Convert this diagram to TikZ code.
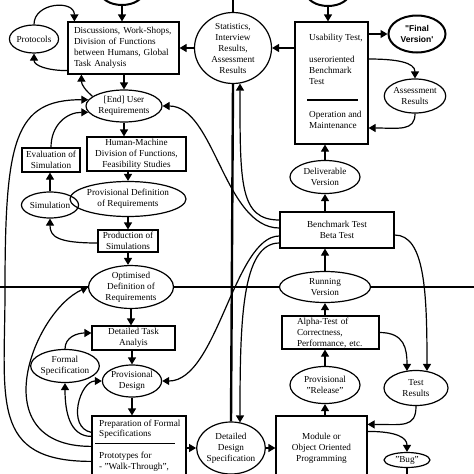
\documentclass[tikz,border=0pt]{standalone}
\usepackage{fontspec}
\setmainfont{Liberation Serif}
\newfontfamily\lsans{Liberation Sans}
\usetikzlibrary{shapes.geometric,arrows.meta,calc}
\begin{document}
\begin{tikzpicture}[x=1pt,y=-1pt,
  every node/.style={font=\fontsize{9.2}{11}\selectfont, inner sep=0pt},
  rbox/.style={draw, rectangle, line width=1.2pt, align=center},
  ell/.style={draw, ellipse, line width=1.2pt, align=center},
  arr/.style={line width=1.2pt, -{Triangle[length=7pt,width=8pt]}},
  plain/.style={line width=1.2pt},
  axisline/.style={line width=2.4pt}]
\useasboundingbox (0,0) rectangle (474,474);
\clip (0,0) rectangle (474,474);

% cut-off ellipses at the top
\node[ell, line width=2pt, minimum width=44pt, minimum height=28pt] (topL) at (122,-9) {};
\node[ell, line width=2pt, minimum width=44pt, minimum height=28pt] (topR) at (328,-8) {};

% upper left quadrant
\node[rbox, minimum width=111pt, minimum height=52pt, align=left, text width=99pt] (disc) at (123.5,48)
  {Discussions, Work-Shops,\\Division of Functions\\between Humans, Global\\Task Analysis};
\node[ell, minimum width=46pt, minimum height=28pt] (prot) at (34,39) {Protocols};
\node[ell, minimum width=77pt, minimum height=60pt] (stat) at (233,48) {Statistics,\\Interview\\Results,\\Assessment\\Results};
\node[ell, minimum width=76pt, minimum height=32pt] (userreq) at (124,106) {[End] User\\Requirements};
\node[rbox, minimum width=99pt, minimum height=34pt] (hm) at (136.5,154) {Human-Machine\\Division of Functions,\\Feasibility Studies};
\node[rbox, minimum width=58pt, minimum height=24pt] (evals) at (51,160) {Evaluation of\\Simulation};
\node[ell, minimum width=53pt, minimum height=26pt] (sim) at (50,205) {Simulation};
\node[ell, minimum width=103pt, minimum height=35pt] (provdef) at (128,199) {Provisional Definition\\of Requirements};
\node[rbox, minimum width=60pt, minimum height=22pt] (prodsim) at (128,241) {Production of\\Simulations};
\node[ell, minimum width=85pt, minimum height=42pt] (optim) at (131,287) {Optimised\\Definition of\\Requirements};

% upper right quadrant
\node[rbox, minimum width=73pt, minimum height=122pt] (usab) at (331.5,83) {};
\node[anchor=west, align=left, font=\fontsize{9.2}{11.2}\selectfont] (usabA) at (309,59.5) {Usability Test,\\[11pt]useroriented\\Benchmark\\Test};
\node[anchor=west, align=left, font=\fontsize{9.2}{11.5}\selectfont] (usabB) at (309,120) {Operation and\\Maintenance};
\draw[plain] ($(usab.west)+(13,17)$) -- ++(51,0);
\node[ell, line width=2pt, minimum width=57pt, minimum height=37pt, font=\lsans\bfseries\fontsize{8.5}{11}\selectfont] (final) at (417,34) {"Final\\Version'};
\node[ell, minimum width=58pt, minimum height=34pt] (assess) at (415,96) {Assessment\\Results};
\node[ell, minimum width=70pt, minimum height=33pt] (deliv) at (325,177) {Deliverable\\Version};
\node[rbox, minimum width=114pt, minimum height=36pt] (bench) at (337,230) {Benchmark Test\\Beta Test};
\node[ell, minimum width=91pt, minimum height=31pt] (running) at (325,287) {Running\\Version};

% lower right quadrant
\node[rbox, minimum width=97pt, minimum height=33pt, align=left, text width=67pt] (alpha) at (330.5,332.5) {Alpha-Test of\\Correctness,\\Performance, etc.};
\node[ell, minimum width=70pt, minimum height=37pt] (provrel) at (325,385) {Provisional\\"Release"};
\node[ell, minimum width=64pt, minimum height=35pt] (testres) at (416,388) {Test\\Results};
\node[rbox, minimum width=91pt, minimum height=64pt] (module) at (321.5,448) {Module or\\Object Oriented\\Programming};
\node[ell, minimum width=46pt, minimum height=15pt] (bug) at (407,460) {"Bug"};
\node[ell, minimum width=64pt, minimum height=52pt] (dds) at (231,448) {Detailed\\Design\\Specification};

% lower left quadrant
\node[rbox, minimum width=94pt, minimum height=100pt] (prep) at (139,466) {};
\node[anchor=north west, align=left, font=\fontsize{9.2}{10}\selectfont] (prepA) at (99,420) {Preparation of Formal\\Specifications};
\node[anchor=north west, align=left, font=\fontsize{9.2}{11}\selectfont] (prepB) at (99,452) {Prototypes for\\- "Walk-Through",};
\draw[plain] ($(prep.north west)+(4,28)$) -- ++(80,0);
\node[rbox, minimum width=83pt, minimum height=24pt] (dta) at (133.5,338) {Detailed Task\\Analyis};
\node[ell, minimum width=57pt, minimum height=32pt] (provdes) at (132,381) {Provisional\\Design};
\node[ell, minimum width=58pt, minimum height=33pt] (formal) at (65,366) {Formal\\Specification};

% axes
\coordinate (vtop) at (233,-2);
\coordinate (hl) at (-2,287);
\coordinate (hr) at (476,287);
\coordinate (bugend) at (407,480);
\coordinate (outerL) at (5,290);
\draw[axisline] (vtop) -- (stat.north);
\draw[axisline] (stat.south) -- (dds.north);
\draw[axisline] (hl) -- (optim.west);
\draw[axisline] (optim.east) -- (running.west);
\draw[axisline] (running.east) -- (hr);

% connectors
\draw[arr] (topL.south) -- (topL.south |- disc.north);
\draw[arr] (topR.south) -- (topR.south |- usab.north);
\draw[arr] (prot.north) .. controls +(0,-22) and +(0,-22) .. ($(disc.north west)+(7,0)$);
\draw[arr] ($(disc.south west)+(0,-4)$) .. controls +(-20,0) and +(0,12) .. (prot.south);
\draw[arr] (stat.west) -- (disc.east);
\draw[arr] (stat.east -| usab.west) -- (stat.east);
\draw[arr] (final.west -| usab.east) -- (final.west);
\draw[arr] ($(usab.east)+(0,-24)$) .. controls +(28,0) and +(0,-16) .. (assess.north);
\draw[arr] (assess.south) .. controls +(0,18) and +(30,0) .. ($(usab.east)+(0,45)$);
\draw[arr] (deliv.north) -- (deliv.north |- usab.south);
\draw[arr] (deliv.south |- bench.north) -- (deliv.south);
\draw[arr] (running.north) -- (running.north |- bench.south);
\draw[arr] (running.south |- alpha.north) -- (running.south);
\draw[arr] (provrel.north) -- (provrel.north |- alpha.south);
\draw[arr] (provrel.south |- module.north) -- (provrel.south);
\draw[arr] (alpha.east) .. controls +(25,0) and +(0,-22) .. ($(testres.north)+(-9,1)$);
\draw[arr] ($(bench.east)+(0,5)$) .. controls +(30,0) and +(0,-80) .. ($(testres.north)+(11,1)$);
\draw[arr] (testres.south) .. controls +(0,22) and +(35,0) .. ($(module.north east)+(0,9)$);
\draw[arr] ($(module.north east)+(0,16)$) .. controls +(30,0) and +(0,-14) .. (bug.north);
\draw[plain] (bug.south) -- (bugend);
\draw[arr] (dds.east) -- (dds.east -| module.west);
\draw[arr] (prep.east |- dds.west) -- (dds.west);

\draw[arr] (disc.south -| userreq) -- (userreq.north);
\draw[arr] (userreq.163) .. controls +(-7,-6) and +(0,10) .. ($(disc.south west)+(14,0)$);
\draw[arr] (userreq.south) -- (userreq.south |- hm.north);
\draw[arr] (provdef.north |- hm.south) -- (provdef.north);
\draw[arr] (provdef.south) -- (provdef.south |- prodsim.north);
\draw[arr] (prodsim.south) -- (prodsim.south |- optim.north);
\draw[arr] (evals.north) .. controls +(0,-22) and +(-22,0) .. (userreq.190);
\draw[arr] (sim.north) -- (sim.north |- evals.south);
\draw[arr] ($(prodsim.west)+(0,2)$) .. controls +(-40,0) and +(0,18) .. (sim.south);

\draw[arr] (optim.south) -- (optim.south |- dta.north);
\draw[arr] (dta.south -| provdes) -- (provdes.north);
\draw[arr] (provdes.south) -- (provdes.south |- prep.north);
\draw[arr] (formal.north) .. controls +(0,-12) and +(-14,0) .. ($(dta.west)+(0,-5)$);
\draw[arr] ($(prep.north west)+(0,21)$) .. controls +(-22,0) and +(0,28) .. (formal.south);
\draw[arr] ($(prep.north west)+(0,17)$) .. controls +(-25,-5) and +(-22,0) .. (provdes.west);
\draw[arr] ($(prep.north west)+(0,31)$) .. controls +(-110,0) and +(-55,25) .. (optim.west);
\draw[arr] ($(prep.north west)+(0,46)$) .. controls +(-102,0) and +(0,110) .. (outerL)
  .. controls +(0,-150) and +(-74,0) .. (userreq.170);

% benchmark curves
\draw[arr] ($(bench.west)+(0,-10)$) .. controls +(-40,0) and +(0,100) .. ($(stat.south)+(7,-0.5)$);
\draw[arr] ($(bench.west)+(0,-2)$) .. controls +(-55,0) and +(52,0) .. (userreq.east);
\draw[arr] ($(bench.west)+(0,6)$) .. controls +(-45,0) and +(55,0) .. (provdes.east);
\draw[arr] ($(bench.west)+(0,13)$) .. controls +(-38,0) and +(0,-100) .. ($(dds.north)+(9,1)$);
\end{tikzpicture}
\end{document}
